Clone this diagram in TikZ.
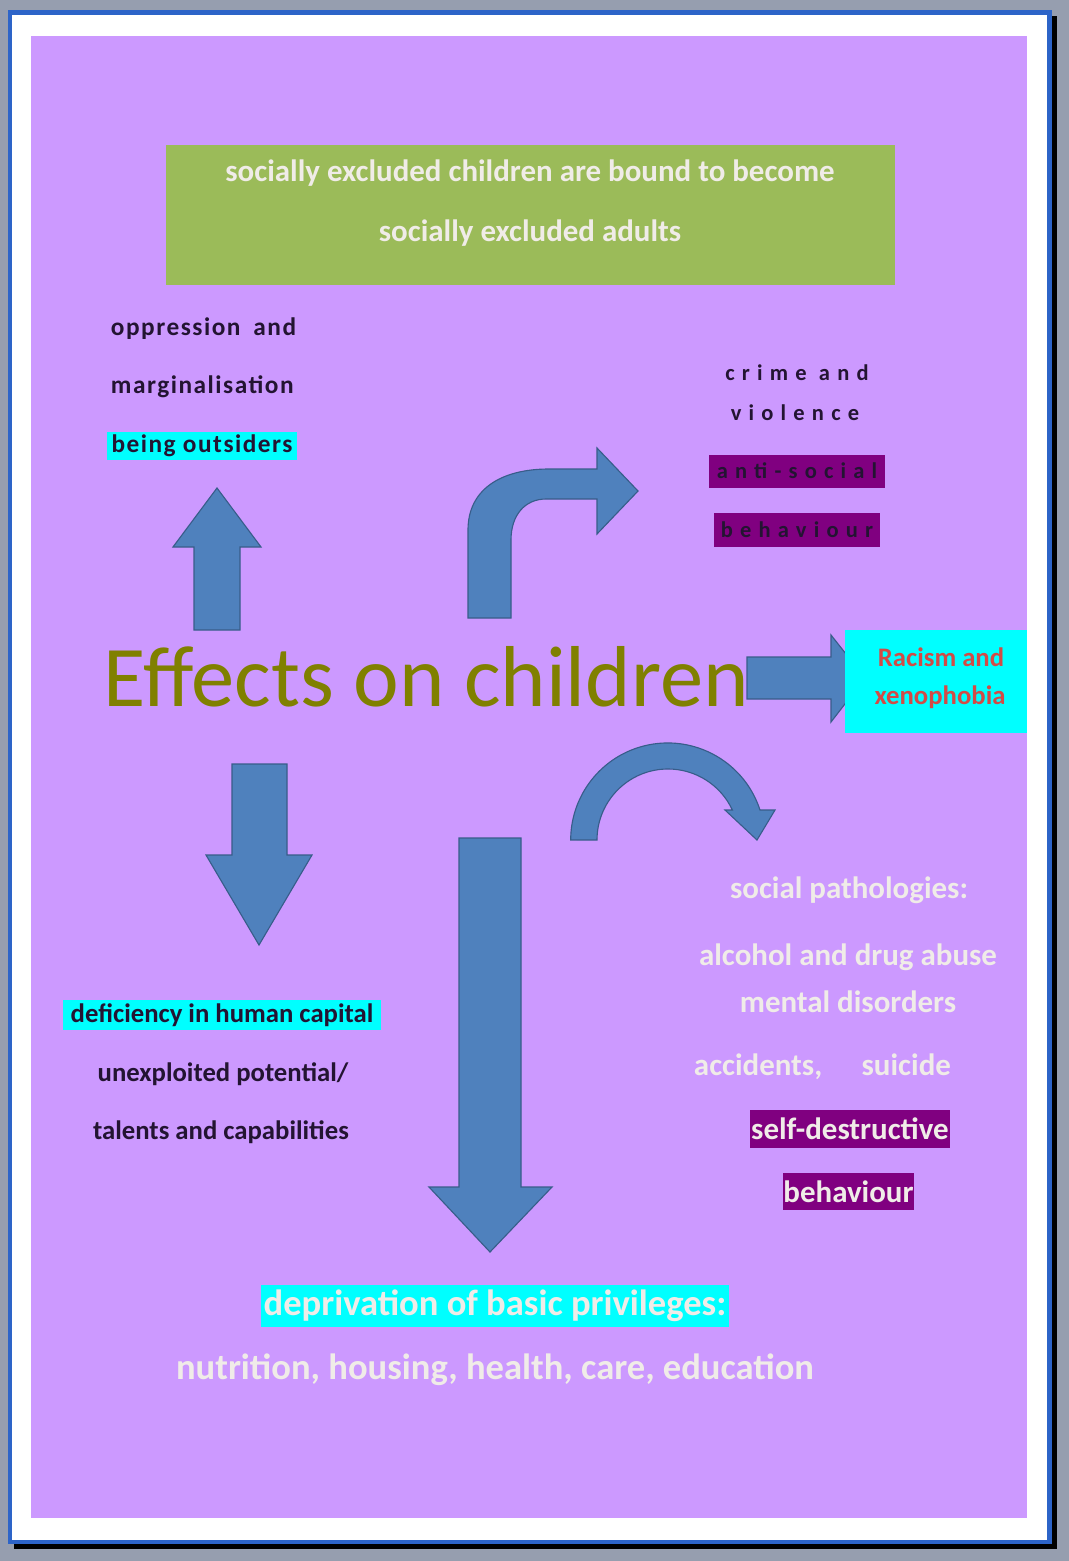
\documentclass[tikz,border=0pt]{standalone}
\usepackage{fontspec}
\setmainfont{Carlito}
\newfontfamily\widefont[LetterSpace=32]{Carlito}
\newfontfamily\loosefont[LetterSpace=6]{Carlito}
\definecolor{framegray}{RGB}{150,158,175}
\definecolor{frameblue}{RGB}{45,100,200}
\definecolor{page}{RGB}{204,153,255}
\definecolor{titlegreen}{RGB}{155,187,89}
\definecolor{cyanbg}{RGB}{0,255,255}
\definecolor{violetbg}{RGB}{128,0,128}
\definecolor{olivetext}{RGB}{128,128,0}
\definecolor{darktext}{RGB}{35,20,50}
\definecolor{lighttext}{RGB}{240,236,232}
\definecolor{redtext}{RGB}{210,75,70}
\definecolor{arrowfill}{RGB}{79,129,189}
\definecolor{arrowline}{RGB}{56,93,138}
\tikzset{
  blockarrow/.style={fill=arrowfill, draw=arrowline, line width=0.8pt, line join=miter},
  cyanbox/.style={fill=cyanbg, inner sep=0pt},
  violetbox/.style={fill=violetbg, inner sep=0pt},
  darkline/.style={text=darktext, font=\loosefont\bfseries\fontsize{18}{20}\selectfont},
  wideline/.style={text=darktext, font=\widefont\bfseries\fontsize{16}{18}\selectfont},
  lightline/.style={text=lighttext, font=\bfseries\fontsize{22}{26}\selectfont}
}
\begin{document}
\begin{tikzpicture}[x=0.025cm, y=-0.025cm]

% frame of the page
\fill[framegray] (0,0) rectangle (1069,1561);
\fill[black] (14,16) rectangle (1057,1549);
\draw[frameblue, line width=3.5pt, fill=white] (10,12.5) rectangle (1049.5,1542);
\fill[page] (31,36) rectangle (1027,1518);

% title box
\node[fill=titlegreen, minimum width=18.225cm, minimum height=3.5cm] (title) at (530.5,215) {};
\node[lightline] (title1) at (530,173) {socially excluded children are bound to become};
\node[lightline] (title2) at (530,233) {socially excluded adults};

% centre
\node[anchor=base west, text=olivetext, font=\fontsize{61.5}{70}\selectfont] (effects) at (99,706) {Effects on children};

% block arrows
\filldraw[blockarrow] (194,630) -- (194,547) -- (173,547) -- (217,488) -- (261,547) -- (240,547) -- (240,630) -- cycle;
\filldraw[blockarrow] (468,618) -- (468,530) .. controls (468,490) and (500,469) .. (549,469) -- (597,469) -- (597,448) -- (638,491) -- (597,534) -- (597,499) -- (546,499) .. controls (525,499) and (511,515) .. (511,540) -- (511,618) -- cycle;
\filldraw[blockarrow] (747,657) -- (831,657) -- (831,635) -- (865,678) -- (831,722) -- (831,699) -- (747,699) -- cycle;
\filldraw[blockarrow] (597,840) arc[start angle=180, end angle=25, radius=1.775cm] -- (725,810) -- (757,840) -- (775,810) -- (760,810) arc[start angle=18, end angle=180, radius=2.425cm] -- cycle;
\filldraw[blockarrow] (232,764) -- (287,764) -- (287,855) -- (312,855) -- (259,945) -- (206,855) -- (232,855) -- cycle;
\filldraw[blockarrow] (459,838) -- (521,838) -- (521,1187) -- (552,1187) -- (490,1252) -- (429,1187) -- (459,1187) -- cycle;

% top left
\node[darkline, anchor=west] (oppression) at (106,329) {oppression\hspace{4pt} and};
\node[darkline, anchor=west] (marginal) at (106,387) {marginalisation};
\node[darkline, cyanbox, minimum width=4.75cm, minimum height=0.7cm] (outsiders) at (202,446) {being outsiders};

% top right
\node[wideline] (crime) at (797,373) {crime and};
\node[wideline] (violence) at (795,413) {violence};
\node[wideline, violetbox, minimum width=4.4cm, minimum height=0.825cm] (antisocial) at (797,471) {anti-social};
\node[wideline, violetbox, minimum width=4.15cm, minimum height=0.85cm] (behaviour1) at (797,530) {behaviour};

% right
\node[cyanbox, minimum width=4.55cm, minimum height=2.575cm] (racism) at (936,681.5) {};
\node[text=redtext, font=\bfseries\fontsize{19}{22}\selectfont] (racism1) at (941,657) {Racism and};
\node[text=redtext, font=\bfseries\fontsize{19}{22}\selectfont] (racism2) at (940,697) {xenophobia};

% bottom left
\node[darkline, font=\bfseries\fontsize{19}{22}\selectfont, cyanbox, minimum width=7.95cm, minimum height=0.75cm] (deficiency) at (222,1015) {deficiency in human capital};
\node[darkline, font=\bfseries\fontsize{19}{22}\selectfont] (potential) at (223,1074) {unexploited potential/};
\node[darkline, font=\bfseries\fontsize{19}{22}\selectfont] (talents) at (221,1132) {talents and capabilities};

% bottom right
\node[lightline] (pathologies) at (849,890) {social pathologies:};
\node[lightline] (alcohol) at (848,957) {alcohol and drug abuse};
\node[lightline] (mental) at (848,1002) {mental disorders};
\node[lightline, anchor=west] (accidents) at (689,1067) {accidents,\hspace{28pt}suicide};
\node[lightline, violetbox, minimum width=5cm, minimum height=0.95cm] (selfdestr) at (850,1129) {self-destructive};
\node[lightline, violetbox, minimum width=3.275cm, minimum height=0.925cm] (behaviour2) at (848.5,1191.5) {behaviour};

% bottom
\node[lightline, font=\bfseries\fontsize{26}{30}\selectfont, cyanbox, minimum width=11.7cm, minimum height=1.05cm] (deprivation) at (495,1306) {deprivation of basic privileges:};
\node[lightline, font=\bfseries\fontsize{26}{30}\selectfont] (nutrition) at (495,1370) {nutrition, housing, health, care, education};

\end{tikzpicture}
\end{document}
